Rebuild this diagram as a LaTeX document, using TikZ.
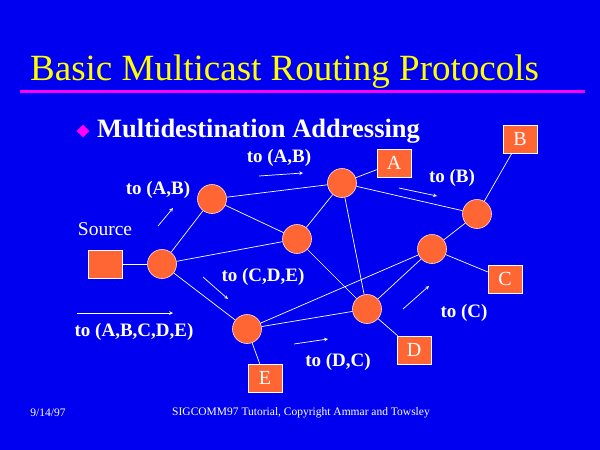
\documentclass[tikz,border=0pt]{standalone}
\usepackage{fontspec}
\setmainfont{Liberation Serif}
\usetikzlibrary{shapes.geometric}
\definecolor{bg}{RGB}{0,0,240}
\definecolor{org}{RGB}{255,102,51}
\definecolor{ttl}{RGB}{255,255,0}
\definecolor{mag}{RGB}{255,0,255}
\begin{document}
\begin{tikzpicture}[x=1pt,y=-1pt,
  router/.style={circle,fill=org,draw=white!80!org,line width=0.6pt,minimum size=29pt,inner sep=0pt},
  host/.style={rectangle,fill=org,draw=white,line width=0.6pt,minimum width=34pt,minimum height=28pt,inner sep=0pt,text=white,font=\fontsize{20}{20}\selectfont},
  link/.style={white,line width=0.7pt},
  flow/.style={white,line width=0.7pt,-stealth},
  lbl/.style={text=white,font=\fontsize{19}{19}\selectfont\bfseries,inner sep=0pt}]
\fill[bg] (0,0) rectangle (600,450);
\useasboundingbox (0,0) rectangle (600,450);
\node[text=ttl,font=\fontsize{37}{37}\selectfont,anchor=base west,inner sep=0pt] (title) at (30,80) {Basic Multicast Routing Protocols};
\coordinate (l1) at (20,91); \coordinate (l2) at (585,91);
\draw[mag,line width=3pt] (l1) -- (l2);
\node[diamond,fill=mag,minimum size=13pt,inner sep=0pt] (dia) at (83,131) {};
\node[text=white,font=\fontsize{26.5}{26.5}\selectfont\bfseries,anchor=west,inner sep=0pt] (head) at (97,131) {Multidestination Addressing};
% nodes
\node[router] (r1) at (162,264) {};
\node[router] (r2) at (212,199) {};
\node[router] (r3) at (297,239) {};
\node[router] (r4) at (342,183) {};
\node[router] (r5) at (477,214) {};
\node[router] (r6) at (432,249) {};
\node[router] (r7) at (367,309) {};
\node[router] (r8) at (247,329) {};
\node[host] (src) at (105,264) {};
\node[host] (A) at (394,163) {A};
\node[host] (B) at (520,139) {B};
\node[host] (C) at (505,279) {C};
\node[host] (D) at (414,350) {D};
\node[host] (E) at (265,378) {E};
\foreach \a/\b in {src/r1,r1/r2,r1/r3,r1/r8,r2/r4,r2/r3,r4/A,r4/r3,r4/r5,r4/r7,r3/r7,r5/B,r5/r6,r6/C,r6/r8,r6/r7,r7/r8,r7/D,r8/E}
  \draw[link] (\a) -- (\b);
% labels and arrows
\node[text=white,font=\fontsize{19.5}{19.5}\selectfont,inner sep=0pt] (srcl) at (105,229) {Source};
\node[lbl] (t1) at (279,158) {to (A,B)};
\coordinate (a1s) at (259,176); \coordinate (a1e) at (303,173);
\draw[flow] (a1s) -- (a1e);
\node[lbl] (t2) at (158,190) {to (A,B)};
\coordinate (a2s) at (158,226); \coordinate (a2e) at (173,208);
\draw[flow] (a2s) -- (a2e);
\node[lbl] (t3) at (452,178) {to (B)};
\coordinate (a3s) at (399,188); \coordinate (a3e) at (437,196);
\draw[flow] (a3s) -- (a3e);
\node[lbl] (t4) at (263,277) {to (C,D,E)};
\coordinate (a4s) at (203,277); \coordinate (a4e) at (228,299);
\draw[flow] (a4s) -- (a4e);
\node[lbl] (t5) at (134,332) {to (A,B,C,D,E)};
\coordinate (a5s) at (77,313); \coordinate (a5e) at (173,313);
\draw[flow] (a5s) -- (a5e);
\node[lbl] (t6) at (338,362) {to (D,C)};
\coordinate (a6s) at (294,344); \coordinate (a6e) at (328,339);
\draw[flow] (a6s) -- (a6e);
\node[lbl] (t7) at (464,313) {to (C)};
\coordinate (a7s) at (403,309); \coordinate (a7e) at (429,286);
\draw[flow] (a7s) -- (a7e);
% footer
\node[text=white,font=\fontsize{11.5}{11.5}\selectfont,inner sep=0pt] (date) at (48,413) {9/14/97};
\node[text=white,font=\fontsize{11.5}{11.5}\selectfont,inner sep=0pt] (foot) at (301,413) {SIGCOMM97 Tutorial, Copyright Ammar and Towsley};
\end{tikzpicture}
\end{document}
